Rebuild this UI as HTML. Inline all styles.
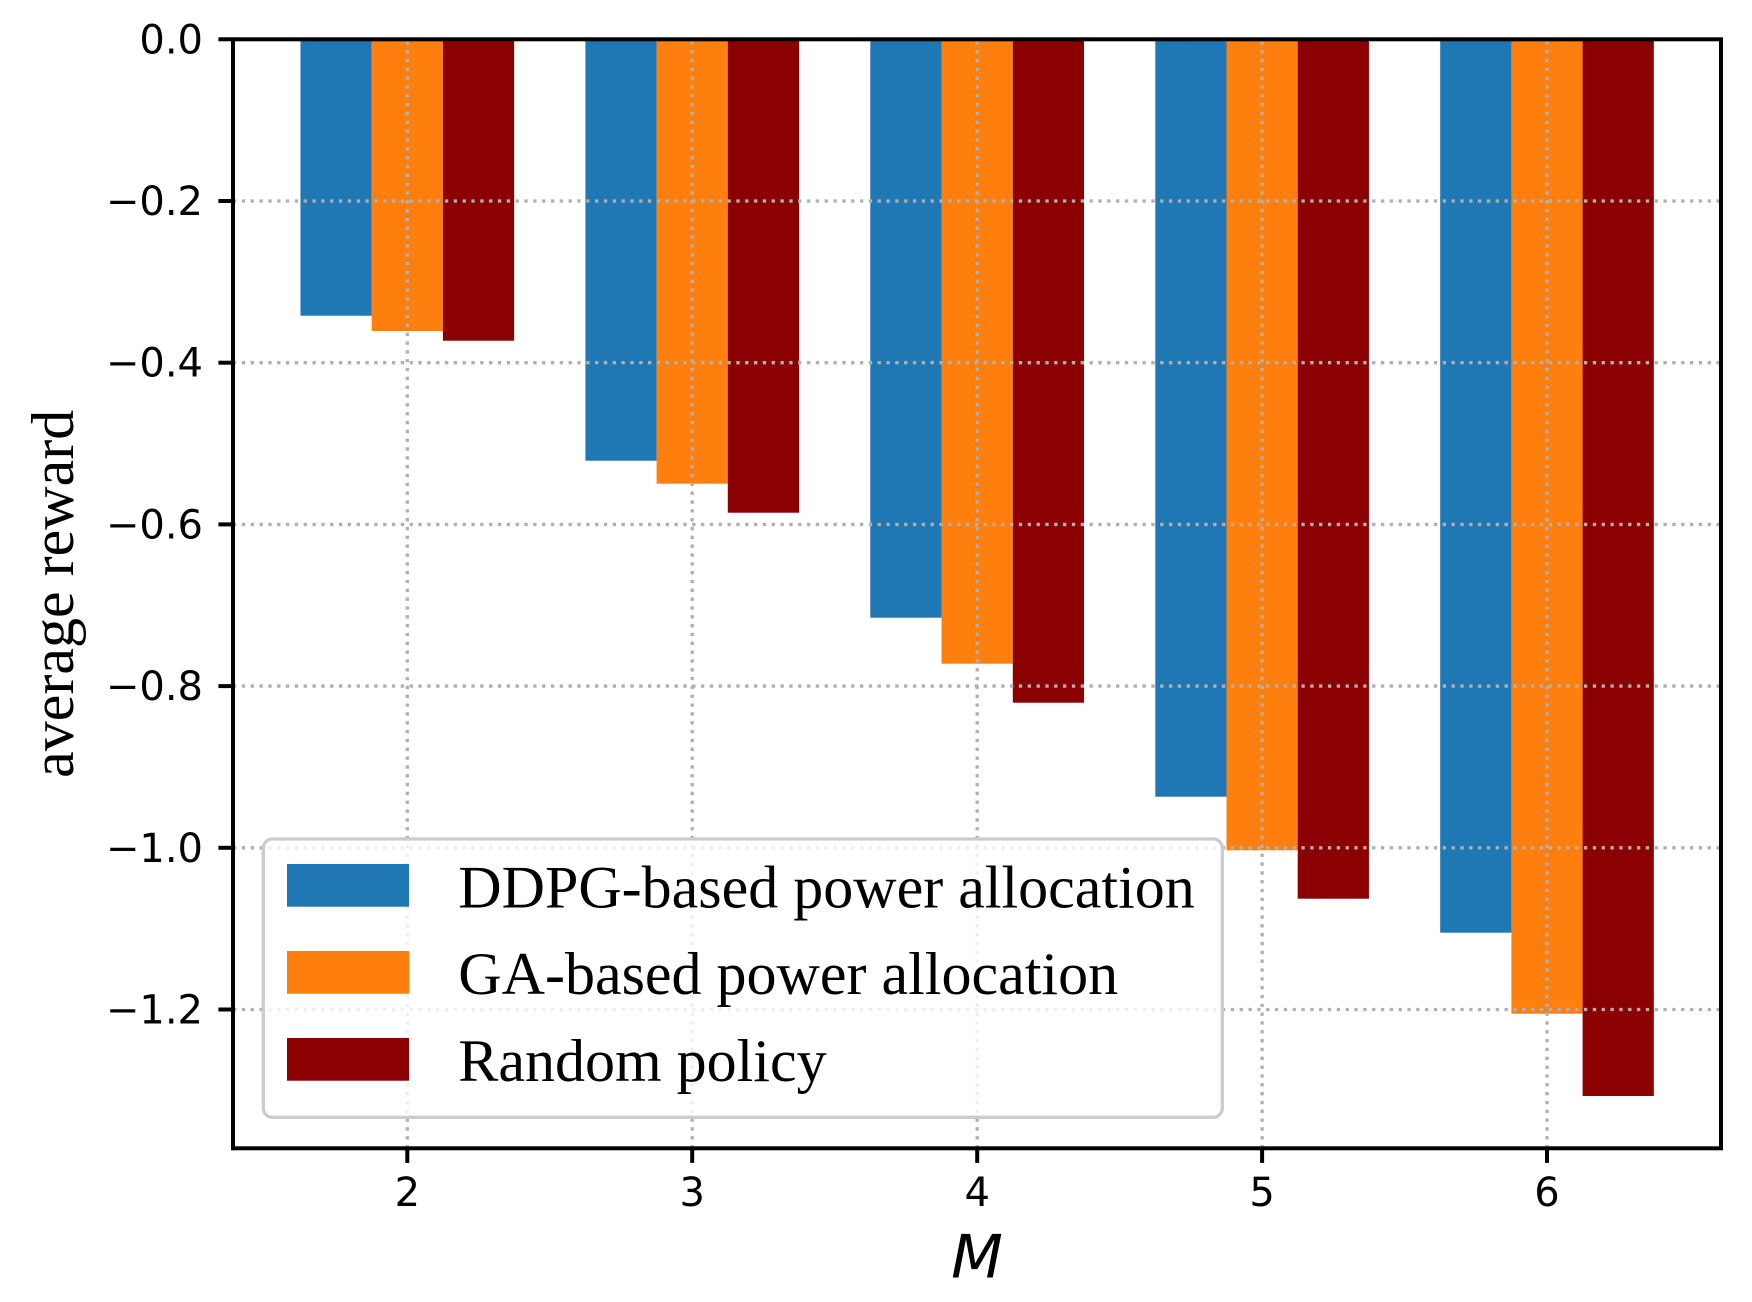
<!DOCTYPE html>
<html>
<head>
<meta charset="utf-8">
<style>
  html, body { margin:0; padding:0; background:#ffffff; }
  svg { display:block; }
  .tick { font-family: "DejaVu Sans", "Liberation Sans", sans-serif; font-size:40px; fill:#000; }
  .serif { font-family: "Liberation Serif", "DejaVu Serif", serif; font-size:60px; fill:#000; }
</style>
</head>
<body>
<svg xmlns="http://www.w3.org/2000/svg" width="1752" height="1302" viewBox="0 0 1752 1302">
  <rect x="0" y="0" width="1752" height="1302" fill="#ffffff"/>

  <!-- Bars -->
  <g>
    <!-- M=2 -->
    <rect x="300.45" y="39.3" width="71.23" height="276.4" fill="#1f77b4"/>
    <rect x="371.68" y="39.3" width="71.23" height="291.7" fill="#ff7f0e"/>
    <rect x="442.9" y="39.3" width="71.23" height="301.4" fill="#8b0000"/>
    <!-- M=3 -->
    <rect x="585.4" y="39.3" width="71.23" height="421.4" fill="#1f77b4"/>
    <rect x="656.6" y="39.3" width="71.23" height="444.4" fill="#ff7f0e"/>
    <rect x="727.8" y="39.3" width="71.23" height="473.4" fill="#8b0000"/>
    <!-- M=4 -->
    <rect x="870.3" y="39.3" width="71.23" height="578.4" fill="#1f77b4"/>
    <rect x="941.55" y="39.3" width="71.23" height="624.4" fill="#ff7f0e"/>
    <rect x="1012.8" y="39.3" width="71.23" height="663.4" fill="#8b0000"/>
    <!-- M=5 -->
    <rect x="1155.3" y="39.3" width="71.23" height="757.4" fill="#1f77b4"/>
    <rect x="1226.5" y="39.3" width="71.23" height="811.0" fill="#ff7f0e"/>
    <rect x="1297.7" y="39.3" width="71.23" height="859.4" fill="#8b0000"/>
    <!-- M=6 -->
    <rect x="1440.2" y="39.3" width="71.23" height="893.4" fill="#1f77b4"/>
    <rect x="1511.4" y="39.3" width="71.23" height="974.4" fill="#ff7f0e"/>
    <rect x="1582.6" y="39.3" width="71.23" height="1056.7" fill="#8b0000"/>
  </g>

  <!-- Grid (dotted) -->
  <g stroke="#b0b0b0" stroke-width="3.33" stroke-dasharray="3.33 5.5" fill="none">
    <line x1="233" y1="201.0" x2="1721" y2="201.0"/>
    <line x1="233" y1="362.7" x2="1721" y2="362.7"/>
    <line x1="233" y1="524.4" x2="1721" y2="524.4"/>
    <line x1="233" y1="686.1" x2="1721" y2="686.1"/>
    <line x1="233" y1="847.8" x2="1721" y2="847.8"/>
    <line x1="233" y1="1009.5" x2="1721" y2="1009.5"/>
    <line x1="407.3" y1="1148.3" x2="407.3" y2="39.3"/>
    <line x1="692.2" y1="1148.3" x2="692.2" y2="39.3"/>
    <line x1="977.2" y1="1148.3" x2="977.2" y2="39.3"/>
    <line x1="1262.1" y1="1148.3" x2="1262.1" y2="39.3"/>
    <line x1="1547.0" y1="1148.3" x2="1547.0" y2="39.3"/>
  </g>

  <!-- Legend -->
  <rect x="263.3" y="839" width="959" height="278.3" rx="9" ry="9" fill="#ffffff" fill-opacity="0.8" stroke="#cccccc" stroke-width="3.33"/>
  <rect x="287" y="864" width="122" height="42.7" fill="#1f77b4"/>
  <rect x="287" y="951" width="122" height="42.7" fill="#ff7f0e"/>
  <rect x="287" y="1038" width="122" height="42.7" fill="#8b0000"/>
  <text class="serif" x="458.3" y="907.3">DDPG-based power allocation</text>
  <text class="serif" x="458.3" y="994.2">GA-based power allocation</text>
  <text class="serif" x="458.3" y="1081">Random policy</text>

  <!-- Axes frame -->
  <rect x="233" y="39.3" width="1488" height="1109" fill="none" stroke="#000" stroke-width="4"/>

  <!-- Y ticks -->
  <g stroke="#000" stroke-width="4">
    <line x1="218.4" y1="39.3" x2="233" y2="39.3"/>
    <line x1="218.4" y1="201.0" x2="233" y2="201.0"/>
    <line x1="218.4" y1="362.7" x2="233" y2="362.7"/>
    <line x1="218.4" y1="524.4" x2="233" y2="524.4"/>
    <line x1="218.4" y1="686.1" x2="233" y2="686.1"/>
    <line x1="218.4" y1="847.8" x2="233" y2="847.8"/>
    <line x1="218.4" y1="1009.5" x2="233" y2="1009.5"/>
    <!-- X ticks -->
    <line x1="407.3" y1="1148.3" x2="407.3" y2="1162.9"/>
    <line x1="692.2" y1="1148.3" x2="692.2" y2="1162.9"/>
    <line x1="977.2" y1="1148.3" x2="977.2" y2="1162.9"/>
    <line x1="1262.1" y1="1148.3" x2="1262.1" y2="1162.9"/>
    <line x1="1547.0" y1="1148.3" x2="1547.0" y2="1162.9"/>
  </g>

  <!-- Y tick labels -->
  <g class="tick" text-anchor="end">
    <text x="203" y="53.3">0.0</text>
    <text x="203" y="215.0">−0.2</text>
    <text x="203" y="376.7">−0.4</text>
    <text x="203" y="538.4">−0.6</text>
    <text x="203" y="700.1">−0.8</text>
    <text x="203" y="861.8">−1.0</text>
    <text x="203" y="1023.5">−1.2</text>
  </g>

  <!-- X tick labels -->
  <g class="tick" text-anchor="middle">
    <text x="407.3" y="1206">2</text>
    <text x="692.2" y="1206">3</text>
    <text x="977.2" y="1206">4</text>
    <text x="1262.1" y="1206">5</text>
    <text x="1547.0" y="1206">6</text>
  </g>

  <!-- Axis labels -->
  <text x="977" y="1277.5" text-anchor="middle" font-family="DejaVu Sans, Liberation Sans, sans-serif" font-style="italic" font-size="60">M</text>
  <text class="serif" transform="translate(73,593.8) rotate(-90)" text-anchor="middle" x="0" y="0">average reward</text>
</svg>
</body>
</html>
